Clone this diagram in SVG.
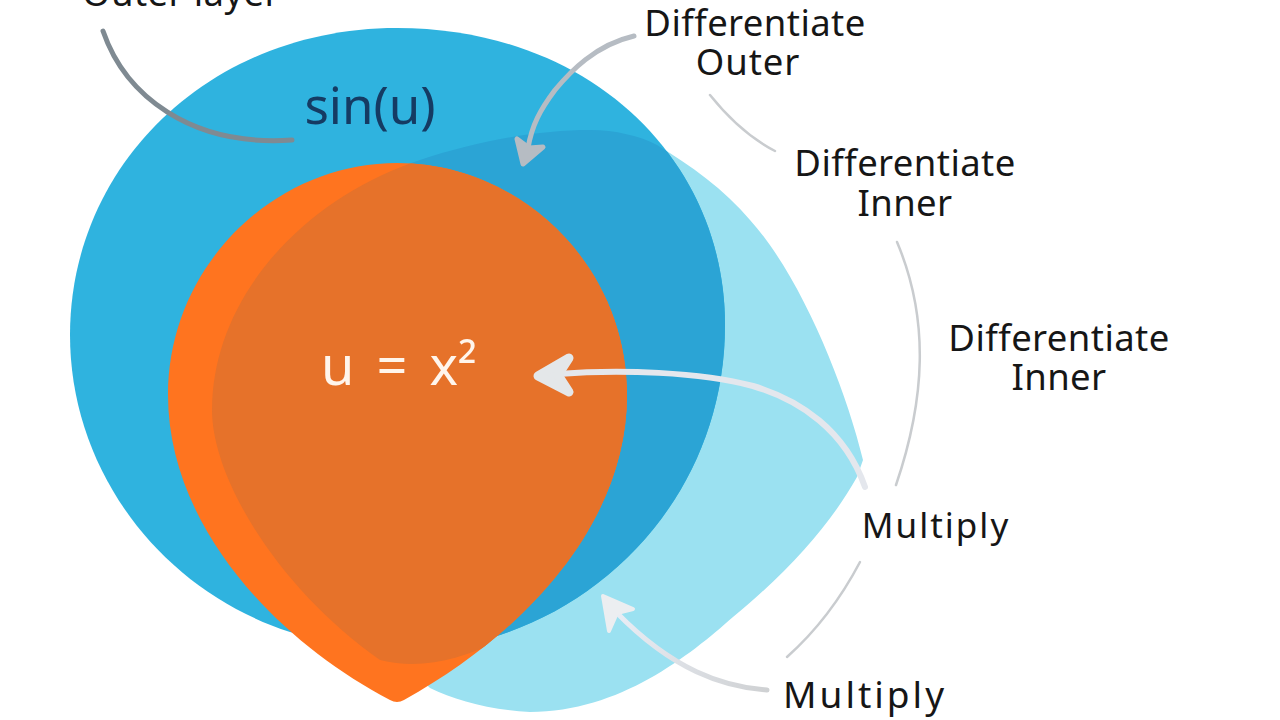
<svg xmlns="http://www.w3.org/2000/svg" width="1280" height="720" viewBox="0 0 1280 720">
<style>
.l{font-family:"Noto Sans","Liberation Sans",sans-serif;font-size:36.5px;fill:#161616;text-anchor:middle;letter-spacing:.4px}
.m{font-size:35px;letter-spacing:2px}
.n{font-size:37px;letter-spacing:3px}
.w{letter-spacing:.9px}
.thin{fill:none;stroke:#c9cccf;stroke-width:2.5;stroke-linecap:round}
.a{fill:none;stroke-linecap:round}
.h{stroke-linejoin:round}
</style>
<defs>
<path id="blob" d="M590 130C615 130 640 136 657 145C690 165 725 190 750 220C800 275 845 385 863 460L857 477C830 525 790 570 733 617C690 655 620 712 530 712C490 710 455 700 430 688L300 560C240 500 212 450 212 410C212 300 300 200 420 160C480 140 540 130 590 130Z"/>
<path id="circ" d="M397 28C590 28 725 160 725 325C725 480 620 600 490 638C440 652 350 650 290 632C160 590 70 470 70 335C70 165 210 28 397 28Z"/>
<path id="drop" d="M397 163C520 163 627 265 627 395C627 520 530 630 404 700Q397 704 390 700C275 640 168 525 168 395C168 265 275 163 397 163Z"/>
<clipPath id="cc"><use href="#circ"/></clipPath>
<clipPath id="cd"><use href="#drop"/></clipPath>
<linearGradient id="g7" gradientUnits="userSpaceOnUse" x1="617" y1="613" x2="767" y2="690"><stop offset="0" stop-color="#e9edf5"/><stop offset="1" stop-color="#cfd1d3"/></linearGradient>
</defs>
<rect width="1280" height="720" fill="#fff"/>
<g id="inner-shape"><use href="#blob" fill="#9be1f1"/></g>
<g id="outer-circle"><use href="#circ" fill="#2fb3df"/><use href="#blob" fill="#2ba4d5" clip-path="url(#cc)"/></g>
<g id="inner-drop"><use href="#drop" fill="#ff741f"/>
<path clip-path="url(#cd)" d="M420 160C300 200 212 300 212 410C212 480 280 590 380 660C420 670 460 660 500 640L640 500V150Z" fill="#e6722a"/></g>
<g id="connectors">
<path class="a" d="M103 31C125 95 190 147 292 140" stroke="#7f8a92" stroke-width="5"/>
<path class="a" d="M634 36C595 45 570 72 555 90C540 110 532 125 528 148" stroke="#b6bcc3" stroke-width="5"/>
<path class="h" d="M517 139L523 164L543 147L529 148Z" fill="#b6bcc3" stroke="#b6bcc3" stroke-width="5"/>
<path class="thin" d="M710 95C730 120 750 138 775 151"/>
<path class="thin" d="M897 242C930 320 925 400 896 485"/>
<path class="a" d="M865 487C845 430 800 400 753 386C700 372 620 369 558 374" stroke="#e4e7ed" stroke-width="6"/>
<path class="h" d="M569 358L538 376L569 392L558 375Z" fill="#e4e7e9" stroke="#e4e7e9" stroke-width="9"/>
<path class="a" d="M767 690C723 687 673 670 617 613" stroke="url(#g7)" stroke-width="5"/>
<path class="h" d="M603 596L633 609L617 613L609 631Z" fill="#eceef1" stroke="#eceef1" stroke-width="4"/>
<path class="thin" d="M860 562C840 600 815 632 787 657"/>
</g>
<g id="n-outer-layer"><text class="l" x="181" y="6">Outer layer</text></g>
<g id="n-sin"><text x="370" y="124" text-anchor="middle" font-family="Noto Sans,Liberation Sans,sans-serif" font-size="51" fill="#153b63">sin(u)</text></g>
<g id="n-u"><text x="399" y="385" text-anchor="middle" font-family="Noto Sans,Liberation Sans,sans-serif" font-size="54" word-spacing="8" fill="#fff5ec">u = x²</text></g>
<g id="n-diff-outer"><text class="l" x="755" y="36">Differentiate</text><text class="l w" x="748" y="75">Outer</text></g>
<g id="n-diff-inner-1"><text class="l" x="905" y="176">Differentiate</text><text class="l" x="905" y="216">Inner</text></g>
<g id="n-diff-inner-2"><text class="l" x="1059" y="351">Differentiate</text><text class="l" x="1059" y="390">Inner</text></g>
<g id="n-multiply-1"><text class="l m" x="936" y="538">Multiply</text></g>
<g id="n-multiply-2"><text class="l n" x="865" y="708">Multiply</text></g>
</svg>
